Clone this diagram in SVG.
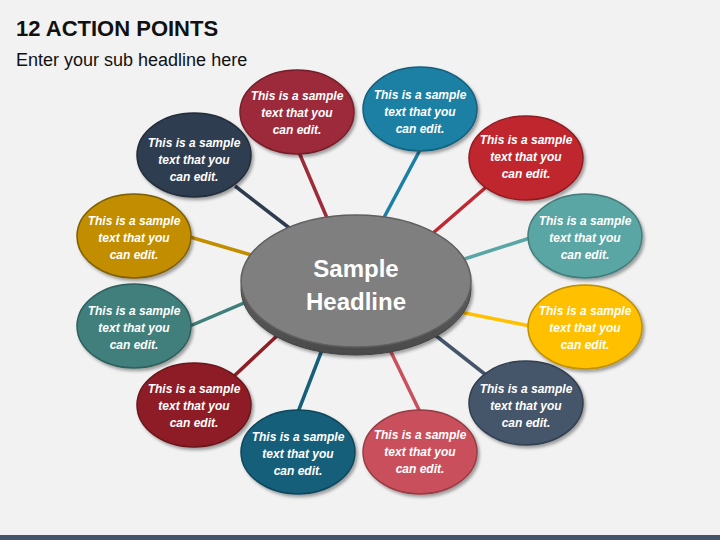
<svg xmlns="http://www.w3.org/2000/svg" width="720" height="540" viewBox="0 0 720 540">
<defs>
<filter id="sh" x="-20%" y="-20%" width="140%" height="150%">
<feDropShadow dx="2" dy="2.5" stdDeviation="1.5" flood-color="#000" flood-opacity="0.35"/>
</filter>
<linearGradient id="rim" x1="0" y1="0" x2="0" y2="1">
<stop offset="0" stop-color="#6e6e6e"/>
<stop offset="1" stop-color="#4a4a4a"/>
</linearGradient>
<style>
.t{font-family:"Liberation Sans",Arial,sans-serif;font-weight:bold;font-style:italic;font-size:12px;fill:#fff;text-anchor:middle}
.c line{stroke-width:3.5;stroke-linecap:butt}
.n ellipse{stroke-width:1.5;filter:url(#sh)}
</style>
</defs>
<rect width="720" height="540" fill="#f2f2f2"/>
<rect x="0" y="535" width="720" height="5" fill="#44546a"/>
<text x="16" y="36" font-family="Liberation Sans, Arial, sans-serif" font-weight="bold" font-size="22" fill="#111">12 ACTION POINTS</text>
<text x="16" y="66" font-family="Liberation Sans, Arial, sans-serif" font-size="18" fill="#111">Enter your sub headline here</text>
<g id="connectors" class="c">
<line x1="298" y1="150" x2="330" y2="225" stroke="#9d2b3a"/>
<line x1="420" y1="150" x2="380" y2="225" stroke="#1b80a5"/>
<line x1="492" y1="182" x2="425" y2="240" stroke="#c0272f"/>
<line x1="530" y1="238" x2="455" y2="262" stroke="#5aa6a4"/>
<line x1="530" y1="326" x2="455" y2="311" stroke="#ffc000"/>
<line x1="486" y1="375" x2="435" y2="335" stroke="#44546a"/>
<line x1="420" y1="412" x2="390" y2="350" stroke="#c9505c"/>
<line x1="298" y1="412" x2="322" y2="350" stroke="#155f7a"/>
<line x1="232" y1="378" x2="280" y2="333" stroke="#8e1e25"/>
<line x1="190" y1="326" x2="258" y2="297" stroke="#3f7f7b"/>
<line x1="190" y1="237" x2="258" y2="257" stroke="#c28e00"/>
<line x1="235" y1="186" x2="292" y2="230" stroke="#2f3c4f"/>
</g>
<g id="center">
<ellipse cx="356" cy="289" rx="115" ry="66" fill="url(#rim)" stroke="#444" stroke-width="1" filter="url(#sh)"/>
<ellipse cx="356" cy="281" rx="115" ry="66" fill="#7f7f7f" stroke="#5f5f5f" stroke-width="1.5"/>
<text x="356" y="277" font-family="Liberation Sans, Arial, sans-serif" font-weight="bold" font-size="24" fill="#fff" text-anchor="middle">Sample</text>
<text x="356" y="310" font-family="Liberation Sans, Arial, sans-serif" font-weight="bold" font-size="24" fill="#fff" text-anchor="middle">Headline</text>
</g>
<g id="n1" class="n"><ellipse cx="297" cy="112" rx="57" ry="42" fill="#9d2b3a" stroke="#761f2b"/><text class="t" x="297" y="100">This is a sample</text><text class="t" x="297" y="117">text that you</text><text class="t" x="297" y="134">can edit.</text></g>
<g id="n2" class="n"><ellipse cx="420" cy="109" rx="57" ry="42" fill="#1b80a5" stroke="#14607c"/><text class="t" x="420" y="99">This is a sample</text><text class="t" x="420" y="116">text that you</text><text class="t" x="420" y="133">can edit.</text></g>
<g id="n3" class="n"><ellipse cx="526" cy="158" rx="57" ry="42" fill="#c0272f" stroke="#901d23"/><text class="t" x="526" y="144">This is a sample</text><text class="t" x="526" y="161">text that you</text><text class="t" x="526" y="178">can edit.</text></g>
<g id="n4" class="n"><ellipse cx="585" cy="236" rx="57" ry="42" fill="#5aa6a4" stroke="#437c7b"/><text class="t" x="585" y="225">This is a sample</text><text class="t" x="585" y="242">text that you</text><text class="t" x="585" y="259">can edit.</text></g>
<g id="n5" class="n"><ellipse cx="585" cy="327" rx="57" ry="42" fill="#ffc000" stroke="#bf9000"/><text class="t" x="585" y="315">This is a sample</text><text class="t" x="585" y="332">text that you</text><text class="t" x="585" y="349">can edit.</text></g>
<g id="n6" class="n"><ellipse cx="526" cy="403" rx="57" ry="42" fill="#44546a" stroke="#333f50"/><text class="t" x="526" y="393">This is a sample</text><text class="t" x="526" y="410">text that you</text><text class="t" x="526" y="427">can edit.</text></g>
<g id="n7" class="n"><ellipse cx="420" cy="452" rx="57" ry="42" fill="#c9505c" stroke="#973c45"/><text class="t" x="420" y="439">This is a sample</text><text class="t" x="420" y="456">text that you</text><text class="t" x="420" y="473">can edit.</text></g>
<g id="n8" class="n"><ellipse cx="298" cy="452" rx="57" ry="42" fill="#155f7a" stroke="#10475c"/><text class="t" x="298" y="441">This is a sample</text><text class="t" x="298" y="458">text that you</text><text class="t" x="298" y="475">can edit.</text></g>
<g id="n9" class="n"><ellipse cx="194" cy="405" rx="57" ry="42" fill="#8e1e25" stroke="#6a161c"/><text class="t" x="194" y="393">This is a sample</text><text class="t" x="194" y="410">text that you</text><text class="t" x="194" y="427">can edit.</text></g>
<g id="n10" class="n"><ellipse cx="134" cy="326" rx="57" ry="42" fill="#3f7f7b" stroke="#2f5f5c"/><text class="t" x="134" y="315">This is a sample</text><text class="t" x="134" y="332">text that you</text><text class="t" x="134" y="349">can edit.</text></g>
<g id="n11" class="n"><ellipse cx="134" cy="236" rx="57" ry="42" fill="#c28e00" stroke="#7f5f00"/><text class="t" x="134" y="225">This is a sample</text><text class="t" x="134" y="242">text that you</text><text class="t" x="134" y="259">can edit.</text></g>
<g id="n12" class="n"><ellipse cx="194" cy="155" rx="57" ry="42" fill="#2f3c4f" stroke="#232d3b"/><text class="t" x="194" y="147">This is a sample</text><text class="t" x="194" y="164">text that you</text><text class="t" x="194" y="181">can edit.</text></g>
</svg>
